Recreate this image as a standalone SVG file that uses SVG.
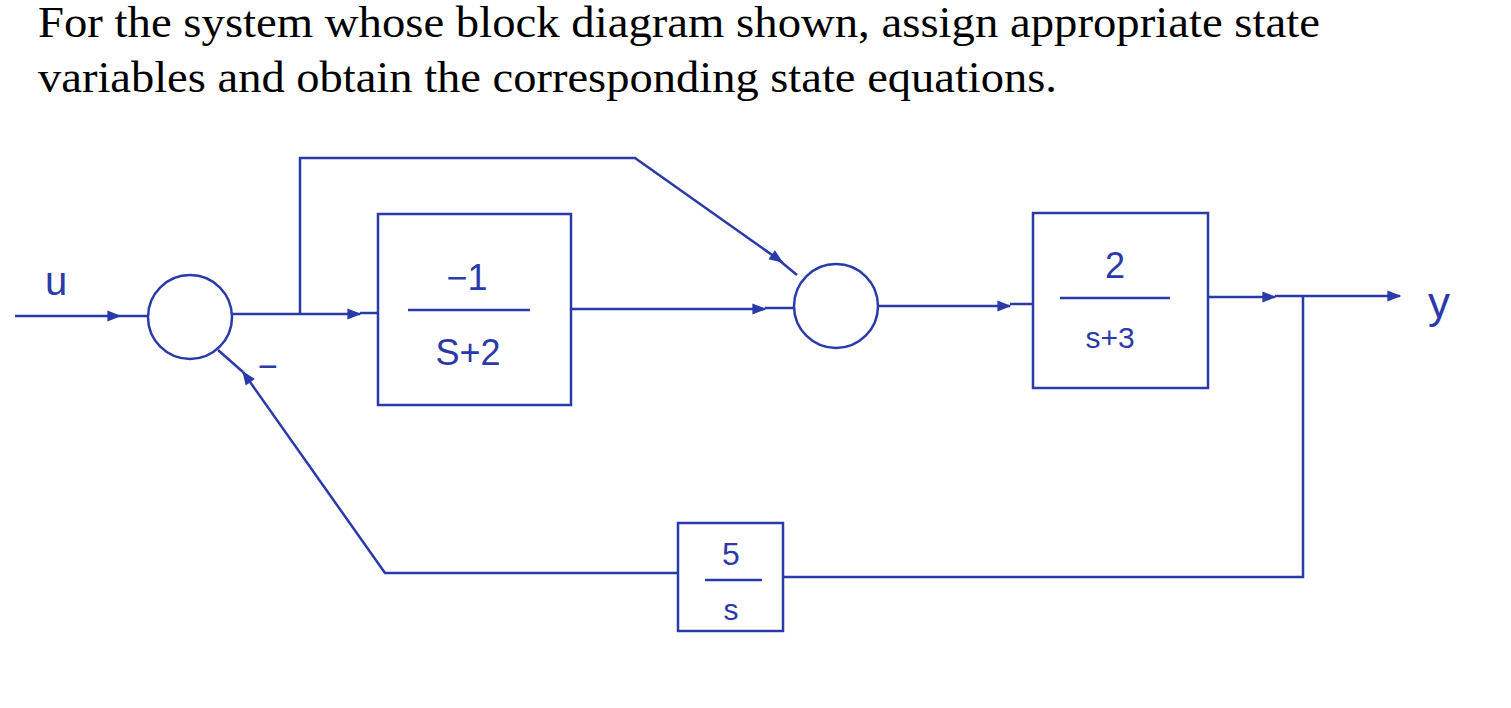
<svg xmlns="http://www.w3.org/2000/svg" width="1511" height="708" viewBox="0 0 1511 708">
<defs>
<style>
.t{font-family:"Liberation Serif",serif;font-size:44px;fill:#000}
.h{font-family:"Liberation Sans",sans-serif;fill:#2a3aa8}
.l{stroke:#2a3aa8;stroke-width:2.5;fill:none}
</style>
<marker id="b" viewBox="0 0 10 10" refX="9" refY="5" markerWidth="24" markerHeight="14" markerUnits="userSpaceOnUse" orient="auto"><path d="M0,1L10,5L0,9Z" fill="#2a3aa8"/></marker>
</defs>
<rect width="1511" height="708" fill="#fff"/>
<text class="t" x="38" y="37" textLength="1282" lengthAdjust="spacingAndGlyphs">For the system whose block diagram shown, assign appropriate state</text>
<text class="t" x="38" y="92" textLength="1019" lengthAdjust="spacingAndGlyphs">variables and obtain the corresponding state equations.</text>
<g id="connectors">
<path class="l" d="M15,316H120" marker-end="url(#b)"/><path class="l" d="M120,316H148"/>
<path class="l" d="M232,314H360" marker-end="url(#b)"/><path class="l" d="M360,313H378"/>
<path class="l" d="M300,314V158H635L782,262" marker-end="url(#b)"/><path class="l" d="M780,261L797,275"/>
<path class="l" d="M571,309H765" marker-end="url(#b)"/><path class="l" d="M765,308H794"/>
<path class="l" d="M878,306H1010" marker-end="url(#b)"/><path class="l" d="M1010,304H1033"/>
<path class="l" d="M1208,297H1275" marker-end="url(#b)"/><path class="l" d="M1275,296H1400" marker-end="url(#b)"/>
<path class="l" d="M1303,296V577H783"/>
<path class="l" d="M678,573H385L243,372" marker-end="url(#b)"/><path class="l" d="M243,372L218,350"/>
</g>
<g id="sum1"><circle class="l" cx="190" cy="317" r="42"/></g>
<g id="sum2"><circle class="l" cx="836" cy="306" r="42"/></g>
<g id="block1"><rect class="l" x="378" y="214" width="193" height="191"/>
<text class="h" x="467" y="290" font-size="36" text-anchor="middle">−1</text><path class="l" d="M408,310H530"/>
<text class="h" x="468" y="365" font-size="36" text-anchor="middle">S+2</text></g>
<g id="block2"><rect class="l" x="1033" y="213" width="175" height="175"/>
<text class="h" x="1115" y="278" font-size="36" text-anchor="middle">2</text><path class="l" d="M1060,298H1170"/>
<text class="h" x="1110" y="348" font-size="30" text-anchor="middle">s+3</text></g>
<g id="block3"><rect class="l" x="678" y="523" width="105" height="108"/>
<text class="h" x="731" y="565" font-size="32" text-anchor="middle">5</text><path class="l" d="M705,580H762"/>
<text class="h" x="731" y="620" font-size="30" text-anchor="middle">s</text></g>
<text class="h" x="45" y="295" font-size="40">u</text>
<text class="h" x="1428" y="318" font-size="44">y</text>
<text class="h" x="258" y="378" font-size="34">−</text>
</svg>
